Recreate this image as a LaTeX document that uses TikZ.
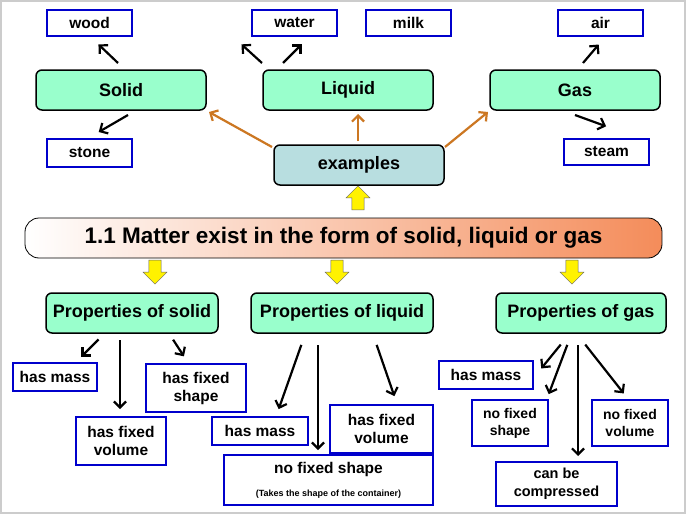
\documentclass[tikz,border=0pt]{standalone}
\usepackage{fontspec}
\setmainfont{Liberation Sans}
\usetikzlibrary{arrows.meta,shapes.arrows}
\begin{document}
\begin{tikzpicture}[x=1pt,y=-1pt,
  ex/.style={draw=blue!80!black,line width=2pt,fill=white,font=\bfseries\fontsize{15.5}{18}\selectfont,align=center,inner sep=0pt},
  cat/.style={draw=black,line width=1.5pt,rounded corners=6pt,fill=green!40!cyan!25!white,font=\bfseries\fontsize{18}{20}\selectfont,inner sep=0pt},
  blk/.style={-{Straight Barb[length=6pt,width=12pt]},line width=2.2pt,shorten >=2pt,shorten <=2pt},
  org/.style={-{Straight Barb[length=6pt,width=12pt]},line width=2.2pt,draw={rgb,255:red,204;green,119;blue,34}},
  yarr/.style={single arrow,draw=black!60,fill=yellow,minimum height=24pt,minimum width=24pt,single arrow head extend=3pt,inner sep=3pt}]
\definecolor{mint}{RGB}{153,255,204}
\definecolor{exb}{RGB}{184,222,224}
\definecolor{orng}{RGB}{244,140,90}
\useasboundingbox (0,0) rectangle (686,514);
\fill[white] (0,0) rectangle (686,514);
\draw[black!20,line width=2pt] (1,1) rectangle (685,513);
\tikzset{cat/.append style={fill=mint}}
% top example boxes
\node[ex,minimum width=85pt,minimum height=26pt] (wood) at (89.5,23) {wood};
\node[ex,minimum width=85pt,minimum height=26pt] (water) at (294.5,23) {water};
\node[ex,minimum width=85pt,minimum height=26pt] (milk) at (408.5,23) {milk};
\node[ex,minimum width=85pt,minimum height=26pt] (air) at (600.5,23) {air};
\node[cat,minimum width=170pt,minimum height=40pt] (solid) at (121,90) {Solid};
\node[cat,minimum width=170pt,minimum height=40pt] (liquid) at (348,90) {Liquid};
\node[cat,minimum width=170pt,minimum height=40pt] (gas) at (575,90) {Gas};
\node[ex,minimum width=85pt,minimum height=28pt] (stone) at (89.5,153) {stone};
\node[ex,minimum width=85pt,minimum height=26pt] (steam) at (606.5,152) {steam};
\node[cat,fill=exb,minimum width=170pt,minimum height=40pt] (examples) at (359,165) {examples};
% banner
\node[draw=black,line width=0.8pt,rounded corners=14pt,left color=white,right color=orng,minimum width=637pt,minimum height=40pt,inner sep=0pt,font=\bfseries\fontsize{22.5}{26}\selectfont] (banner) at (343.5,238) {1.1 Matter exist in the form of solid, liquid or gas};
\node[yarr,rotate=90] (up) at (358,201) {};
\node[yarr,rotate=-90] (d1) at (155,269) {};
\node[yarr,rotate=-90] (d2) at (337,269) {};
\node[yarr,rotate=-90] (d3) at (572,269) {};
% properties
\node[cat,minimum width=172pt,minimum height=40pt] (ps) at (132,313) {Properties of solid};
\node[cat,minimum width=182pt,minimum height=40pt] (pl) at (342,313) {Properties of liquid};
\node[cat,minimum width=170pt,minimum height=40pt] (pg) at (581,313) {Properties of gas};
\node[ex,minimum width=84pt,minimum height=28pt] (sm) at (55,377) {has mass};
\node[ex,minimum width=100pt,minimum height=48pt] (sfs) at (196,388) {has fixed\\shape};
\node[ex,minimum width=90pt,minimum height=48pt] (sfv) at (121,441) {has fixed\\volume};
\node[ex,minimum width=96pt,minimum height=28pt] (lm) at (260,431) {has mass};
\node[ex,minimum width=103pt,minimum height=48pt] (lfv) at (381.5,429) {has fixed\\volume};
\node[ex,minimum width=209pt,minimum height=50pt] (lns) at (328.5,480) {no fixed shape\\[5pt]{\fontsize{9}{10}\selectfont(Takes the shape of the container)}};
\node[ex,minimum width=94pt,minimum height=28pt] (gm) at (486,375) {has mass};
\node[ex,font=\bfseries\fontsize{14}{17}\selectfont,minimum width=76pt,minimum height=46pt] (gns) at (510,423) {no fixed\\shape};
\node[ex,font=\bfseries\fontsize{14}{17}\selectfont,minimum width=76pt,minimum height=46pt] (gnv) at (630,423) {no fixed\\volume};
\node[ex,font=\bfseries\fontsize{14.5}{18}\selectfont,minimum width=121pt,minimum height=44pt] (gc) at (556.5,484) {can be\\compressed};
% coordinates for arrow starts
\coordinate (a1) at (118,63); \coordinate (a2) at (262,63); \coordinate (a3) at (283,63);
\coordinate (a4) at (583,63); \coordinate (a5) at (128,115); \coordinate (a6) at (575,115);
\draw[blk,shorten <=0pt] (a1) -- (97,43);
\draw[blk,shorten <=0pt] (a2) -- (240,43);
\draw[blk,shorten <=0pt] (a3) -- (303,43);
\draw[blk,shorten <=0pt] (a4) -- (600,43);
\draw[blk,shorten <=0pt] (a5) -- (97,133);
\draw[blk,shorten <=0pt] (a6) -- (608,127);
\draw[org] (272,147) -- (209,112);
\draw[org] (358,141) -- (358,114);
\draw[org] (445,147) -- (488,112);
% property arrows
\draw[blk] (100,338) -- (80,358);
\draw[blk] (120,338) -- (120,411);
\draw[blk] (172,338) -- (185,358);
\draw[blk] (302,343) -- (278,411);
\draw[blk] (318,343) -- (318,452);
\draw[blk] (376,343) -- (395,398);
\draw[blk] (562,343) -- (540,370);
\draw[blk] (568,343) -- (548,396);
\draw[blk] (578,343) -- (578,458);
\draw[blk] (584,343) -- (625,395);
\end{tikzpicture}
\end{document}
